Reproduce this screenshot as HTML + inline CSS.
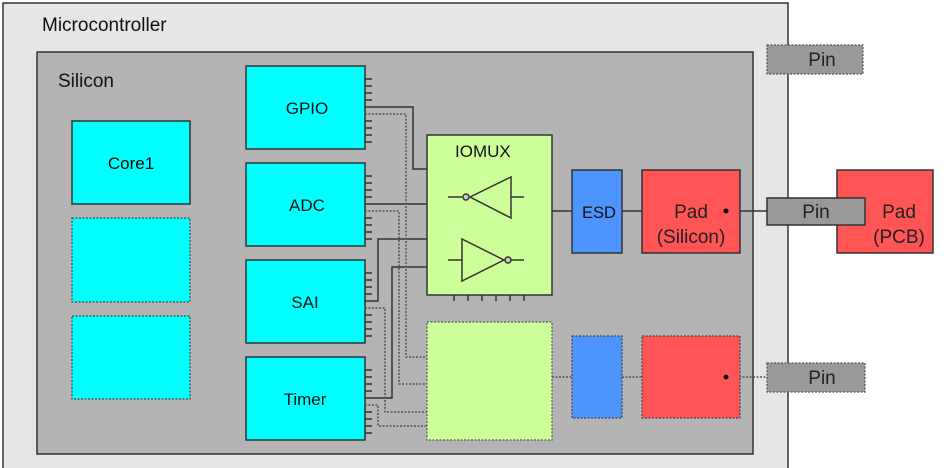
<!DOCTYPE html>
<html><head><meta charset="utf-8"><style>
html,body{margin:0;padding:0;background:#fff;}
svg{display:block;font-family:"Liberation Sans",Arial,sans-serif;}
</style></head><body>
<svg width="952" height="468" viewBox="0 0 952 468" xmlns="http://www.w3.org/2000/svg">
<rect x="3" y="3" width="785" height="470" fill="#e6e6e6" stroke="#333" stroke-width="1.5"/>
<text x="42" y="31" font-size="19" fill="#111">Microcontroller</text>
<rect x="37" y="52" width="716" height="402" fill="#b4b4b4" stroke="#333" stroke-width="1.5"/>
<text x="58" y="87" font-size="19" fill="#111">Silicon</text>

<rect x="72" y="121" width="118" height="83" fill="#00ffff" stroke="#333" stroke-width="1.5"/>
<text x="131" y="169" font-size="17" text-anchor="middle">Core1</text>
<rect x="72" y="218" width="118" height="84" fill="#00ffff" stroke="#444" stroke-width="1.2" stroke-dasharray="2,1.5"/>
<rect x="72" y="316" width="118" height="83" fill="#00ffff" stroke="#444" stroke-width="1.2" stroke-dasharray="2,1.5"/>

<g stroke="#333" stroke-width="1.5" fill="#00ffff">
<rect x="246" y="66" width="119" height="83"/>
<rect x="246" y="163" width="119" height="83"/>
<rect x="246" y="260" width="119" height="83"/>
<rect x="246" y="357" width="119" height="83"/>
</g>
<g font-size="17" text-anchor="middle" fill="#111">
<text x="307" y="114">GPIO</text>
<text x="307" y="211">ADC</text>
<text x="305" y="308">SAI</text>
<text x="305" y="405">Timer</text>
</g>
<g stroke="#333" stroke-width="1.5">
<path d="M365 79h7M365 86h7M365 93h7M365 100h7M365 121h7M365 128h7M365 135h7M365 142h7"/>
<path d="M365 176h7M365 183h7M365 190h7M365 197h7M365 218h7M365 225h7M365 232h7M365 239h7"/>
<path d="M365 273h7M365 280h7M365 287h7M365 294h7M365 315h7M365 322h7M365 329h7M365 336h7"/>
<path d="M365 370h7M365 377h7M365 384h7M365 391h7M365 412h7M365 419h7M365 426h7M365 433h7"/>
<path d="M454 295v6M468 295v6M482 295v6M496 295v6M510 295v6M524 295v6"/>
</g>
<g stroke="#333" stroke-width="1.5" fill="none">
<path d="M365 107H413V169H427"/>
<path d="M365 204H427"/>
<path d="M365 301H378V239H427"/>
<path d="M365 398H392V267H427"/>
<path d="M552 211H572M622 211H642M725 211H770"/>
</g>
<g stroke="#555" stroke-width="1.5" fill="none" stroke-dasharray="2,1.5">
<path d="M365 114H406V357H427"/>
<path d="M365 211H399V384H427"/>
<path d="M365 308H385V412H427"/>
<path d="M365 405H378V426H427"/>
<path d="M552 377H572M622 377H642M725 377H767"/>
</g>

<rect x="427" y="135" width="125" height="160" fill="#ccff99" stroke="#333" stroke-width="1.5"/>
<text x="455" y="157" font-size="17" fill="#111">IOMUX</text>
<g stroke="#333" stroke-width="1.5" fill="none">
<path d="M448 197H462M511 197H524"/>
<path d="M511 177L470 197L511 218Z"/>
<circle cx="466" cy="197" r="3" fill="#ccc"/>
<path d="M448 260H462M511 260H524"/>
<path d="M462 239L504 260L462 281Z"/>
<circle cx="508" cy="260" r="3" fill="#ccc"/>
</g>
<rect x="427" y="322" width="125" height="118" fill="#ccff99" stroke="#555" stroke-width="1.2" stroke-dasharray="2,1.5"/>

<rect x="572" y="170" width="50" height="83" fill="#4d94ff" stroke="#333" stroke-width="1.5"/>
<text x="599" y="218" font-size="16.5" text-anchor="middle" fill="#111">ESD</text>
<rect x="642" y="170" width="98" height="83" fill="#ff5555" stroke="#333" stroke-width="1.5"/>
<text x="691" y="218" font-size="19" text-anchor="middle" fill="#222">Pad</text>
<text x="691" y="243" font-size="19" text-anchor="middle" fill="#222">(Silicon)</text>
<circle cx="726" cy="211" r="2.5" fill="#111"/>
<rect x="572" y="336" width="50" height="82" fill="#4d94ff" stroke="#444" stroke-width="1.2" stroke-dasharray="2,1.5"/>
<rect x="642" y="336" width="98" height="82" fill="#ff5555" stroke="#444" stroke-width="1.2" stroke-dasharray="2,1.5"/>
<circle cx="726" cy="377" r="2.5" fill="#111"/>

<rect x="837" y="170" width="96" height="83" fill="#ff5555" stroke="#333" stroke-width="1.5"/>
<text x="899" y="218" font-size="19" text-anchor="middle" fill="#222">Pad</text>
<text x="899" y="243" font-size="19" text-anchor="middle" fill="#222">(PCB)</text>
<rect x="767" y="198" width="98" height="27" fill="#999" stroke="#333" stroke-width="1.5"/>
<text x="816" y="218" font-size="19" text-anchor="middle" fill="#222">Pin</text>
<rect x="767" y="45" width="96" height="29" fill="#999" stroke="#555" stroke-width="1.2" stroke-dasharray="2,1.5"/>
<text x="822" y="66" font-size="19" text-anchor="middle" fill="#222">Pin</text>
<rect x="767" y="363" width="98" height="29" fill="#999" stroke="#555" stroke-width="1.2" stroke-dasharray="2,1.5"/>
<text x="822" y="384" font-size="19" text-anchor="middle" fill="#222">Pin</text>
</svg>
</body></html>
